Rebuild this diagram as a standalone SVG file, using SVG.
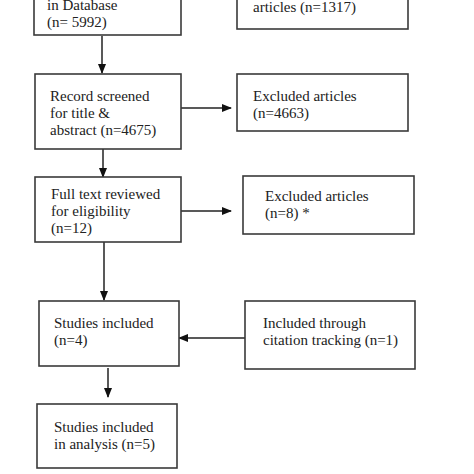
<svg xmlns="http://www.w3.org/2000/svg" width="474" height="474" viewBox="0 0 474 474">
<style>
.box{fill:#fff;stroke:#3a3a3a;stroke-width:1.6}
.t{font-family:"Liberation Serif","Times New Roman",serif;font-size:15px;fill:#222}
.c{stroke:#222;stroke-width:1.5;fill:none}
</style>
<defs>
<marker id="ah" markerWidth="10" markerHeight="8" refX="9" refY="4" orient="auto" markerUnits="userSpaceOnUse">
<path d="M0,0 L10,4 L0,8 Z" fill="#111"/>
</marker>
</defs>
<rect width="474" height="474" fill="#fff"/>
<g id="connectors">
<line class="c" x1="102" y1="36" x2="102" y2="73" marker-end="url(#ah)"/>
<line class="c" x1="181" y1="108" x2="231" y2="108" marker-end="url(#ah)"/>
<line class="c" x1="103" y1="149" x2="103" y2="177" marker-end="url(#ah)"/>
<line class="c" x1="181" y1="211" x2="231" y2="211" marker-end="url(#ah)"/>
<line class="c" x1="104" y1="242" x2="104" y2="300" marker-end="url(#ah)"/>
<line class="c" x1="247" y1="338" x2="179" y2="338" marker-end="url(#ah)"/>
<line class="c" x1="108" y1="368" x2="108" y2="397" marker-end="url(#ah)"/>
</g>
<g id="n1">
<rect class="box" x="34" y="-20" width="147" height="55"/>
<text class="t" x="47" y="10">in Database</text>
<text class="t" x="47" y="27">(n= 5992)</text>
</g>
<g id="n2">
<rect class="box" x="237" y="-20" width="171" height="49"/>
<text class="t" x="253" y="12">articles (n=1317)</text>
</g>
<g id="n3">
<rect class="box" x="35" y="74" width="146" height="75"/>
<text class="t" x="50" y="101">Record screened</text>
<text class="t" x="50" y="118">for title &amp;</text>
<text class="t" x="50" y="135">abstract (n=4675)</text>
</g>
<g id="n4">
<rect class="box" x="237" y="74" width="171" height="57"/>
<text class="t" x="253" y="101">Excluded articles</text>
<text class="t" x="253" y="118">(n=4663)</text>
</g>
<g id="n5">
<rect class="box" x="35" y="177" width="146" height="65"/>
<text class="t" x="51" y="199">Full text reviewed</text>
<text class="t" x="51" y="216">for eligibility</text>
<text class="t" x="51" y="233">(n=12)</text>
</g>
<g id="n6">
<rect class="box" x="243" y="176" width="171" height="58"/>
<text class="t" x="265" y="201">Excluded articles</text>
<text class="t" x="265" y="218">(n=8) *</text>
</g>
<g id="n7">
<rect class="box" x="39" y="301" width="140" height="65"/>
<text class="t" x="54" y="328">Studies included</text>
<text class="t" x="54" y="345">(n=4)</text>
</g>
<g id="n8">
<rect class="box" x="245" y="301" width="170" height="68"/>
<text class="t" x="263" y="328">Included through</text>
<text class="t" x="263" y="345">citation tracking (n=1)</text>
</g>
<g id="n9">
<rect class="box" x="37" y="404" width="140" height="64"/>
<text class="t" x="54" y="432">Studies included</text>
<text class="t" x="54" y="449">in analysis (n=5)</text>
</g>
</svg>
